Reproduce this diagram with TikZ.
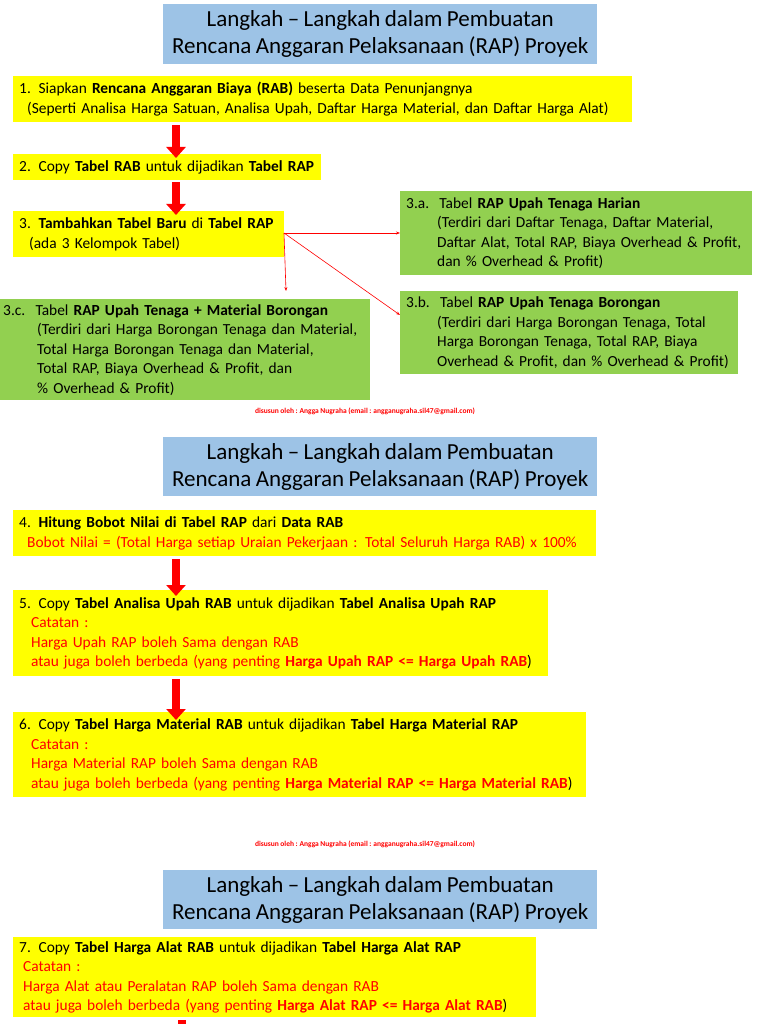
\documentclass[tikz,border=0pt]{standalone}
\usepackage{fontspec}
\setmainfont{Carlito}[WordSpace=0.85]
\usetikzlibrary{arrows.meta}
\definecolor{ybox}{HTML}{FFFF00}
\definecolor{gbox}{HTML}{92D050}
\definecolor{tbox}{HTML}{9DC3E6}
\definecolor{rtxt}{HTML}{FF0000}
\begin{document}
\begin{tikzpicture}[x=1pt,y=-1pt,
  box/.style={anchor=north west,inner xsep=6pt,inner ysep=2pt,align=left,font=\fontsize{15.4}{19.5}\selectfont},
  ybx/.style={box,fill=ybox},
  gbx/.style={box,fill=gbox},
  ttl/.style={anchor=north west,fill=tbox,align=center,font=\fontsize{23}{27}\selectfont,inner sep=0pt},
  bigarrow/.style={draw=rtxt,line width=8pt,-{Triangle[width=19pt,length=11pt]}},
  thin/.style={draw=rtxt,line width=0.6pt,-{Stealth[length=4pt,width=3pt]}},
  credit/.style={text=rtxt,font=\fontsize{7.5}{8}\selectfont\bfseries}]
\useasboundingbox (0,0) rectangle (768,1024);
\newcommand\ttltext{Langkah -- Langkah dalam Pembuatan\\Rencana Anggaran Pelaksanaan (RAP) Proyek}
% titles
\node[ttl,minimum width=434pt,minimum height=60pt] (t1) at (163,4) {\ttltext};
\node[ttl,minimum width=434pt,minimum height=59pt] (t2) at (163,437) {\ttltext};
\node[ttl,minimum width=434pt,minimum height=59pt] (t3) at (163,870) {\ttltext};
% boxes
\node[ybx,text width=607pt,minimum height=46pt] (b1) at (13,76) {1. Siapkan \textbf{Rencana Anggaran Biaya (RAB)} beserta Data Penunjangnya\\\hspace*{8pt}(Seperti Analisa Harga Satuan, Analisa Upah, Daftar Harga Material, dan Daftar Harga Alat)};
\node[ybx,text width=296pt,minimum height=26pt] (b2) at (13,154) {2. Copy \textbf{Tabel RAB} untuk dijadikan \textbf{Tabel RAP}};
\node[ybx,text width=259pt,minimum height=46pt] (b3) at (13,211) {3. \textbf{Tambahkan Tabel Baru} di \textbf{Tabel RAP}\\\hspace*{10pt}(ada 3 Kelompok Tabel)};
\node[gbx,text width=340pt,minimum height=84pt] (b3a) at (400,191) {3.a.\ \ Tabel \textbf{RAP Upah Tenaga Harian}\\\hspace*{31pt}(Terdiri dari Daftar Tenaga, Daftar Material,\\\hspace*{31pt}Daftar Alat, Total RAP, Biaya Overhead \& Profit,\\\hspace*{31pt}dan \% Overhead \& Profit)};
\node[gbx,text width=326pt,minimum height=83pt] (b3b) at (400,291) {3.b.\ \ Tabel \textbf{RAP Upah Tenaga Borongan}\\\hspace*{31pt}(Terdiri dari Harga Borongan Tenaga, Total\\\hspace*{31pt}Harga Borongan Tenaga, Total RAP, Biaya\\\hspace*{31pt}Overhead \& Profit, dan \% Overhead \& Profit)};
\node[gbx,text width=364pt,minimum height=101pt,inner xsep=3pt] (b3c) at (0,299) {3.c.\ \ Tabel \textbf{RAP Upah Tenaga + Material Borongan}\\\hspace*{34pt}(Terdiri dari Harga Borongan Tenaga dan Material,\\\hspace*{34pt}Total Harga Borongan Tenaga dan Material,\\\hspace*{34pt}Total RAP, Biaya Overhead \& Profit, dan\\\hspace*{34pt}\% Overhead \& Profit)};
\node[credit] (c1) at (365,411) {disusun oleh : Angga Nugraha (email : angganugraha.sil47@gmail.com)};
\node[ybx,text width=571pt,minimum height=46pt] (b4) at (13,510) {4. \textbf{Hitung Bobot Nilai di Tabel RAP} dari \textbf{Data RAB}\\\textcolor{rtxt}{\hspace*{8pt}Bobot Nilai = (Total Harga setiap Uraian Pekerjaan : Total Seluruh Harga RAB) x 100\%}};
\node[ybx,text width=523pt,minimum height=86pt] (b5) at (13,590) {5. Copy \textbf{Tabel Analisa Upah RAB} untuk dijadikan \textbf{Tabel Analisa Upah RAP}\\\color{rtxt}\hspace*{12pt}Catatan :\\\hspace*{12pt}Harga Upah RAP boleh Sama dengan RAB\\\hspace*{12pt}atau juga boleh berbeda (yang penting \textbf{Harga Upah RAP <= Harga Upah RAB}\textcolor{black}{)}};
\node[ybx,text width=561pt,minimum height=85pt] (b6) at (13,712) {6. Copy \textbf{Tabel Harga Material RAB} untuk dijadikan \textbf{Tabel Harga Material RAP}\\\color{rtxt}\hspace*{12pt}Catatan :\\\hspace*{12pt}Harga Material RAP boleh Sama dengan RAB\\\hspace*{12pt}atau juga boleh berbeda (yang penting \textbf{Harga Material RAP <= Harga Material RAB}\textcolor{black}{)}};
\node[credit] (c2) at (365,844) {disusun oleh : Angga Nugraha (email : angganugraha.sil47@gmail.com)};
\node[ybx,text width=511pt,minimum height=80pt] (b7) at (13,937) {7. Copy \textbf{Tabel Harga Alat RAB} untuk dijadikan \textbf{Tabel Harga Alat RAP}\\\color{rtxt}\hspace*{4pt}Catatan :\\\hspace*{4pt}Harga Alat atau Peralatan RAP boleh Sama dengan RAB\\\hspace*{4pt}atau juga boleh berbeda (yang penting \textbf{Harga Alat RAP <= Harga Alat RAB}\textcolor{black}{)}};
% big arrows
\coordinate (x1) at (176,0);
\draw[bigarrow] (b1.south-|x1) ++(0,3) -- ([yshift=-4pt]b2.north-|x1);
\draw[bigarrow] (b2.south-|x1) ++(0,2) -- ([yshift=-4pt]b3.north-|x1);
\draw[bigarrow] (b4.south-|x1) ++(0,3) -- ([yshift=-6pt]b5.north-|x1);
\draw[bigarrow] (b5.south-|x1) ++(0,3) -- ([yshift=-8pt]b6.north-|x1);
\coordinate (x7) at (182,0);
\fill[rtxt] ([yshift=-3pt]b7.south-|x7) ++(-4,0) rectangle ++(8,10);
% thin arrows
\coordinate (s3) at (284,233);
\coordinate (e3c) at (286,291);
\draw[thin] (s3) -- (b3a.west|-s3);
\draw[thin] (s3) -- (e3c);
\draw[thin] (s3) -- (400,315);
\end{tikzpicture}
\end{document}
